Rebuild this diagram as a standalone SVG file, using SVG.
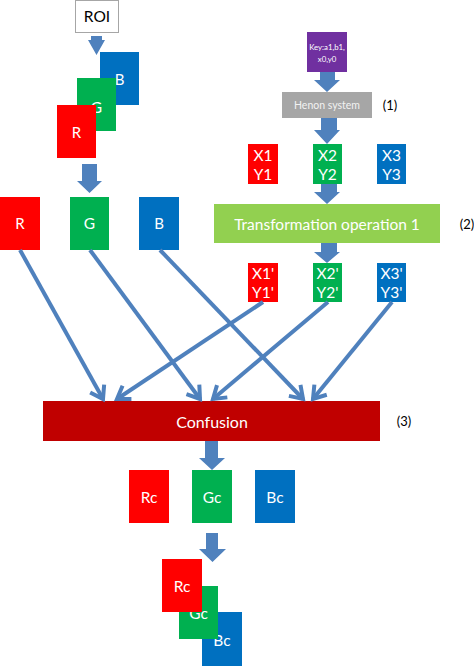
<svg xmlns="http://www.w3.org/2000/svg" width="474" height="666" viewBox="0 0 474 666">
<style>
text{font-family:Lato,"Open Sans","Liberation Sans",sans-serif;text-anchor:middle;dominant-baseline:central;fill:#fff}
.r{fill:#FF0000}.g{fill:#00B050}.b{fill:#0070C0}
.bk{fill:#4F81BD}
.c{stroke:#4F81BD;stroke-width:4;fill:none}
.t14{font-size:15px}.t15{font-size:15.5px}
.lab{fill:#000;font-size:13px}
</style>
<defs>
<marker id="ah" markerUnits="userSpaceOnUse" markerWidth="30" markerHeight="30" viewBox="-15 -15 30 30" refX="0" refY="0" orient="auto">
<path d="M-12,-8 L0,0 L-12,8" fill="none" stroke="#4F81BD" stroke-width="4"/>
</marker>
</defs>
<rect width="474" height="666" fill="#fff"/>
<g id="roi"><rect x="75.5" y="0.5" width="43" height="32" fill="#fff" stroke="#A6A6A6"/><text x="97" y="16" class="t15" style="fill:#000">ROI</text></g>
<g id="stack1">
<g id="stack1-b"><rect class="b" x="100" y="52" width="39" height="53"/><text x="119.5" y="79" class="t14">B</text></g>
<g id="stack1-g"><rect class="g" x="77" y="78" width="39" height="53"/><text x="96.5" y="107" class="t15">G</text></g>
<g id="stack1-r"><rect class="r" x="57" y="105" width="39" height="53"/><text x="76.5" y="132" class="t14">R</text></g>
</g>
<g id="row-r"><rect class="r" x="0" y="197" width="40" height="53"/><text x="20" y="223" class="t14">R</text></g>
<g id="row-g"><rect class="g" x="70" y="197" width="39" height="53"/><text x="89.5" y="223" class="t15">G</text></g>
<g id="row-b"><rect class="b" x="139" y="197" width="40" height="53"/><text x="159" y="223" class="t14">B</text></g>
<g id="key"><rect x="307" y="32" width="40" height="40" fill="#7030A0"/><text x="327" y="47" style="font-size:7.8px">Key:a1,b1,</text><text x="327" y="59" style="font-size:7.8px">x0,y0</text></g>
<g id="henon"><rect x="282" y="92" width="90" height="26" fill="#A6A6A6"/><text x="327" y="105" style="font-size:10.5px;fill:#F2F2F2">Henon system</text></g>
<text x="390" y="105" class="lab">(1)</text>
<g id="x1"><rect class="r" x="248" y="144" width="30" height="40"/><text x="263" y="155" class="t15">X1</text><text x="263" y="174" class="t15">Y1</text></g>
<g id="x2"><rect class="g" x="313" y="144" width="29" height="40"/><text x="327.5" y="155" class="t15">X2</text><text x="327.5" y="174" class="t15">Y2</text></g>
<g id="x3"><rect class="b" x="377" y="144" width="29" height="40"/><text x="391.5" y="155" class="t15">X3</text><text x="391.5" y="174" class="t15">Y3</text></g>
<g id="transform"><rect x="214" y="204" width="226" height="39" fill="#92D050"/><text x="327" y="223.5" style="font-size:15.5px">Transformation operation 1</text></g>
<text x="467" y="223.5" class="lab">(2)</text>
<g id="x1p"><rect class="r" x="248" y="263" width="30" height="39"/><text x="263" y="273" class="t15">X1'</text><text x="263" y="292" class="t15">Y1'</text></g>
<g id="x2p"><rect class="g" x="313" y="263" width="29" height="39"/><text x="327.5" y="273" class="t15">X2'</text><text x="327.5" y="292" class="t15">Y2'</text></g>
<g id="x3p"><rect class="b" x="377" y="263" width="29" height="39"/><text x="391.5" y="273" class="t15">X3'</text><text x="391.5" y="292" class="t15">Y3'</text></g>
<g id="confusion"><rect x="43" y="401" width="337" height="40" fill="#C00000"/><text x="212" y="421" style="font-size:16px">Confusion</text></g>
<text x="404" y="421" class="lab">(3)</text>
<g id="row-rc"><rect class="r" x="129" y="470" width="40" height="53"/><text x="149" y="497" class="t15">Rc</text></g>
<g id="row-gc"><rect class="g" x="192" y="470" width="40" height="53"/><text x="212" y="497" class="t15">Gc</text></g>
<g id="row-bc"><rect class="b" x="255" y="470" width="40" height="53"/><text x="275" y="497" class="t15">Bc</text></g>
<g id="stack2">
<g id="stack2-bc"><rect class="b" x="202" y="612" width="40" height="60"/><text x="222" y="640" class="t15">Bc</text></g>
<g id="stack2-gc"><rect class="g" x="179" y="586" width="39" height="53"/><text x="198.5" y="613" class="t15">Gc</text></g>
<g id="stack2-rc"><rect class="r" x="162" y="559" width="40" height="53"/><text x="182" y="586" class="t15">Rc</text></g>
</g>
<g id="connectors">
<polygon class="bk" points="91,36 102,36 102,40 105,40 96.5,55 88,40 91,40"/>
<polygon class="bk" points="82,164 97,164 97,181 102,181 89.5,193 77,181 82,181"/>
<polygon class="bk" points="320,72 335,72 335,80 340,80 327,92 314,80 320,80"/>
<polygon class="bk" points="321,118 337,118 337,130 340,130 327,144 314,130 321,130"/>
<polygon class="bk" points="321,184 337,184 337,192 340,192 327,204 314,192 321,192"/>
<polygon class="bk" points="321,243 337,243 337,252 340,252 327,263 314,252 321,252"/>
<polygon class="bk" points="205,441 218,441 218,458 225,458 212,470 199,458 205,458"/>
<polygon class="bk" points="206,533 218,533 218,549 226,549 212.5,562 199,549 206,549"/>
<line class="c" x1="20" y1="250" x2="103" y2="399" marker-end="url(#ah)"/>
<line class="c" x1="90" y1="250" x2="200" y2="399" marker-end="url(#ah)"/>
<line class="c" x1="160" y1="250" x2="303" y2="399" marker-end="url(#ah)"/>
<line class="c" x1="263" y1="302" x2="117" y2="399" marker-end="url(#ah)"/>
<line class="c" x1="328" y1="302" x2="213" y2="399" marker-end="url(#ah)"/>
<line class="c" x1="392" y1="302" x2="313" y2="399" marker-end="url(#ah)"/>
</g>
</svg>
